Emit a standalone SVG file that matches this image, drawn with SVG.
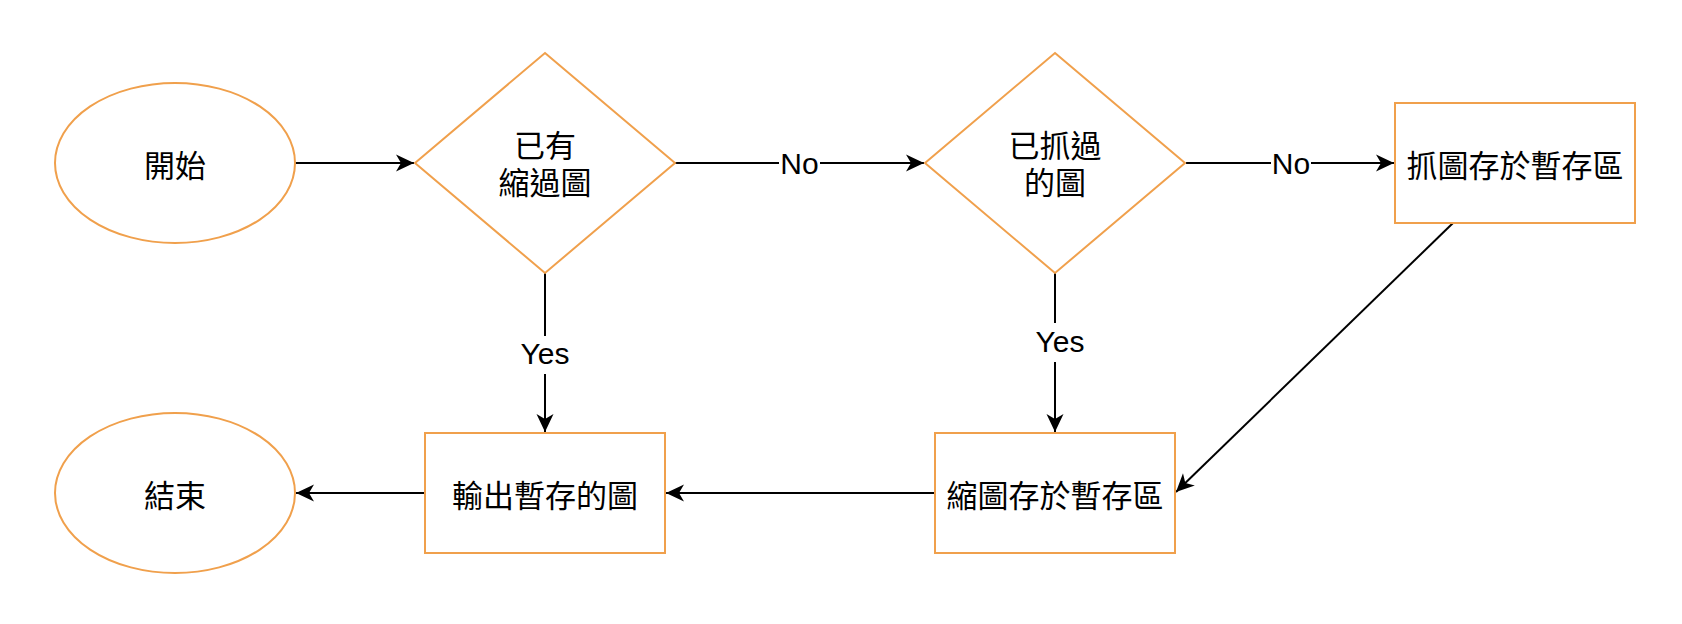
<svg xmlns="http://www.w3.org/2000/svg" width="1682" height="624" viewBox="0 0 1682 624">
<style>
.shape{fill:#ffffff;stroke:#F0A04C;stroke-width:2}
.edge{fill:none;stroke:#000000;stroke-width:2}
.t{font-family:"Noto Sans CJK TC","Noto Sans CJK SC",sans-serif;font-size:31px;fill:#000000;text-anchor:middle;dominant-baseline:central}
.lbl{font-family:"Liberation Sans",Arial,sans-serif;font-size:30px;fill:#000000;text-anchor:middle}
.bg{fill:#ffffff;stroke:none}
</style>
<defs>
<marker id="arr" markerUnits="userSpaceOnUse" markerWidth="20" markerHeight="20" viewBox="0 0 20 20" refX="19" refY="10" orient="auto">
<path d="M1,1.5 L19,10 L1,18.5 L6,10 Z" fill="#000000"/>
</marker>
</defs>
<rect width="1682" height="624" fill="#ffffff"/>
<g id="connectors">
<line class="edge" x1="295" y1="163" x2="414" y2="163" marker-end="url(#arr)"/>
<line class="edge" x1="675" y1="163" x2="924" y2="163" marker-end="url(#arr)"/>
<rect class="bg" x="779" y="148" width="41" height="30"/>
<text class="lbl" x="799.5" y="174">No</text>
<line class="edge" x1="1186" y1="163" x2="1394" y2="163" marker-end="url(#arr)"/>
<rect class="bg" x="1271" y="148" width="40" height="30"/>
<text class="lbl" x="1291" y="174">No</text>
<line class="edge" x1="545" y1="273" x2="545" y2="432" marker-end="url(#arr)"/>
<rect class="bg" x="518" y="336" width="54" height="38"/>
<text class="lbl" x="545" y="364">Yes</text>
<line class="edge" x1="1055" y1="273" x2="1055" y2="432" marker-end="url(#arr)"/>
<rect class="bg" x="1033" y="323" width="54" height="39"/>
<text class="lbl" x="1060" y="352">Yes</text>
<line class="edge" x1="1453" y1="223" x2="1176" y2="492" marker-end="url(#arr)"/>
<line class="edge" x1="935" y1="493" x2="666" y2="493" marker-end="url(#arr)"/>
<line class="edge" x1="425" y1="493" x2="296" y2="493" marker-end="url(#arr)"/>
</g>
<g id="start">
<ellipse class="shape" cx="175" cy="163" rx="120" ry="80"/>
<text class="t" x="175" y="163">開始</text>
</g>
<g id="decision1">
<polygon class="shape" points="545,53 675,163 545,273 415,163"/>
<text class="t" x="545" y="143">已有</text>
<text class="t" x="545" y="180">縮過圖</text>
</g>
<g id="decision2">
<polygon class="shape" points="1055,53 1185,163 1055,273 925,163"/>
<text class="t" x="1055" y="143">已抓過</text>
<text class="t" x="1055" y="180">的圖</text>
</g>
<g id="fetch">
<rect class="shape" x="1395" y="103" width="240" height="120"/>
<text class="t" x="1515" y="163">抓圖存於暫存區</text>
</g>
<g id="thumb">
<rect class="shape" x="935" y="433" width="240" height="120"/>
<text class="t" x="1055" y="493">縮圖存於暫存區</text>
</g>
<g id="output">
<rect class="shape" x="425" y="433" width="240" height="120"/>
<text class="t" x="545" y="493">輸出暫存的圖</text>
</g>
<g id="end">
<ellipse class="shape" cx="175" cy="493" rx="120" ry="80"/>
<text class="t" x="175" y="493">結束</text>
</g>
</svg>
